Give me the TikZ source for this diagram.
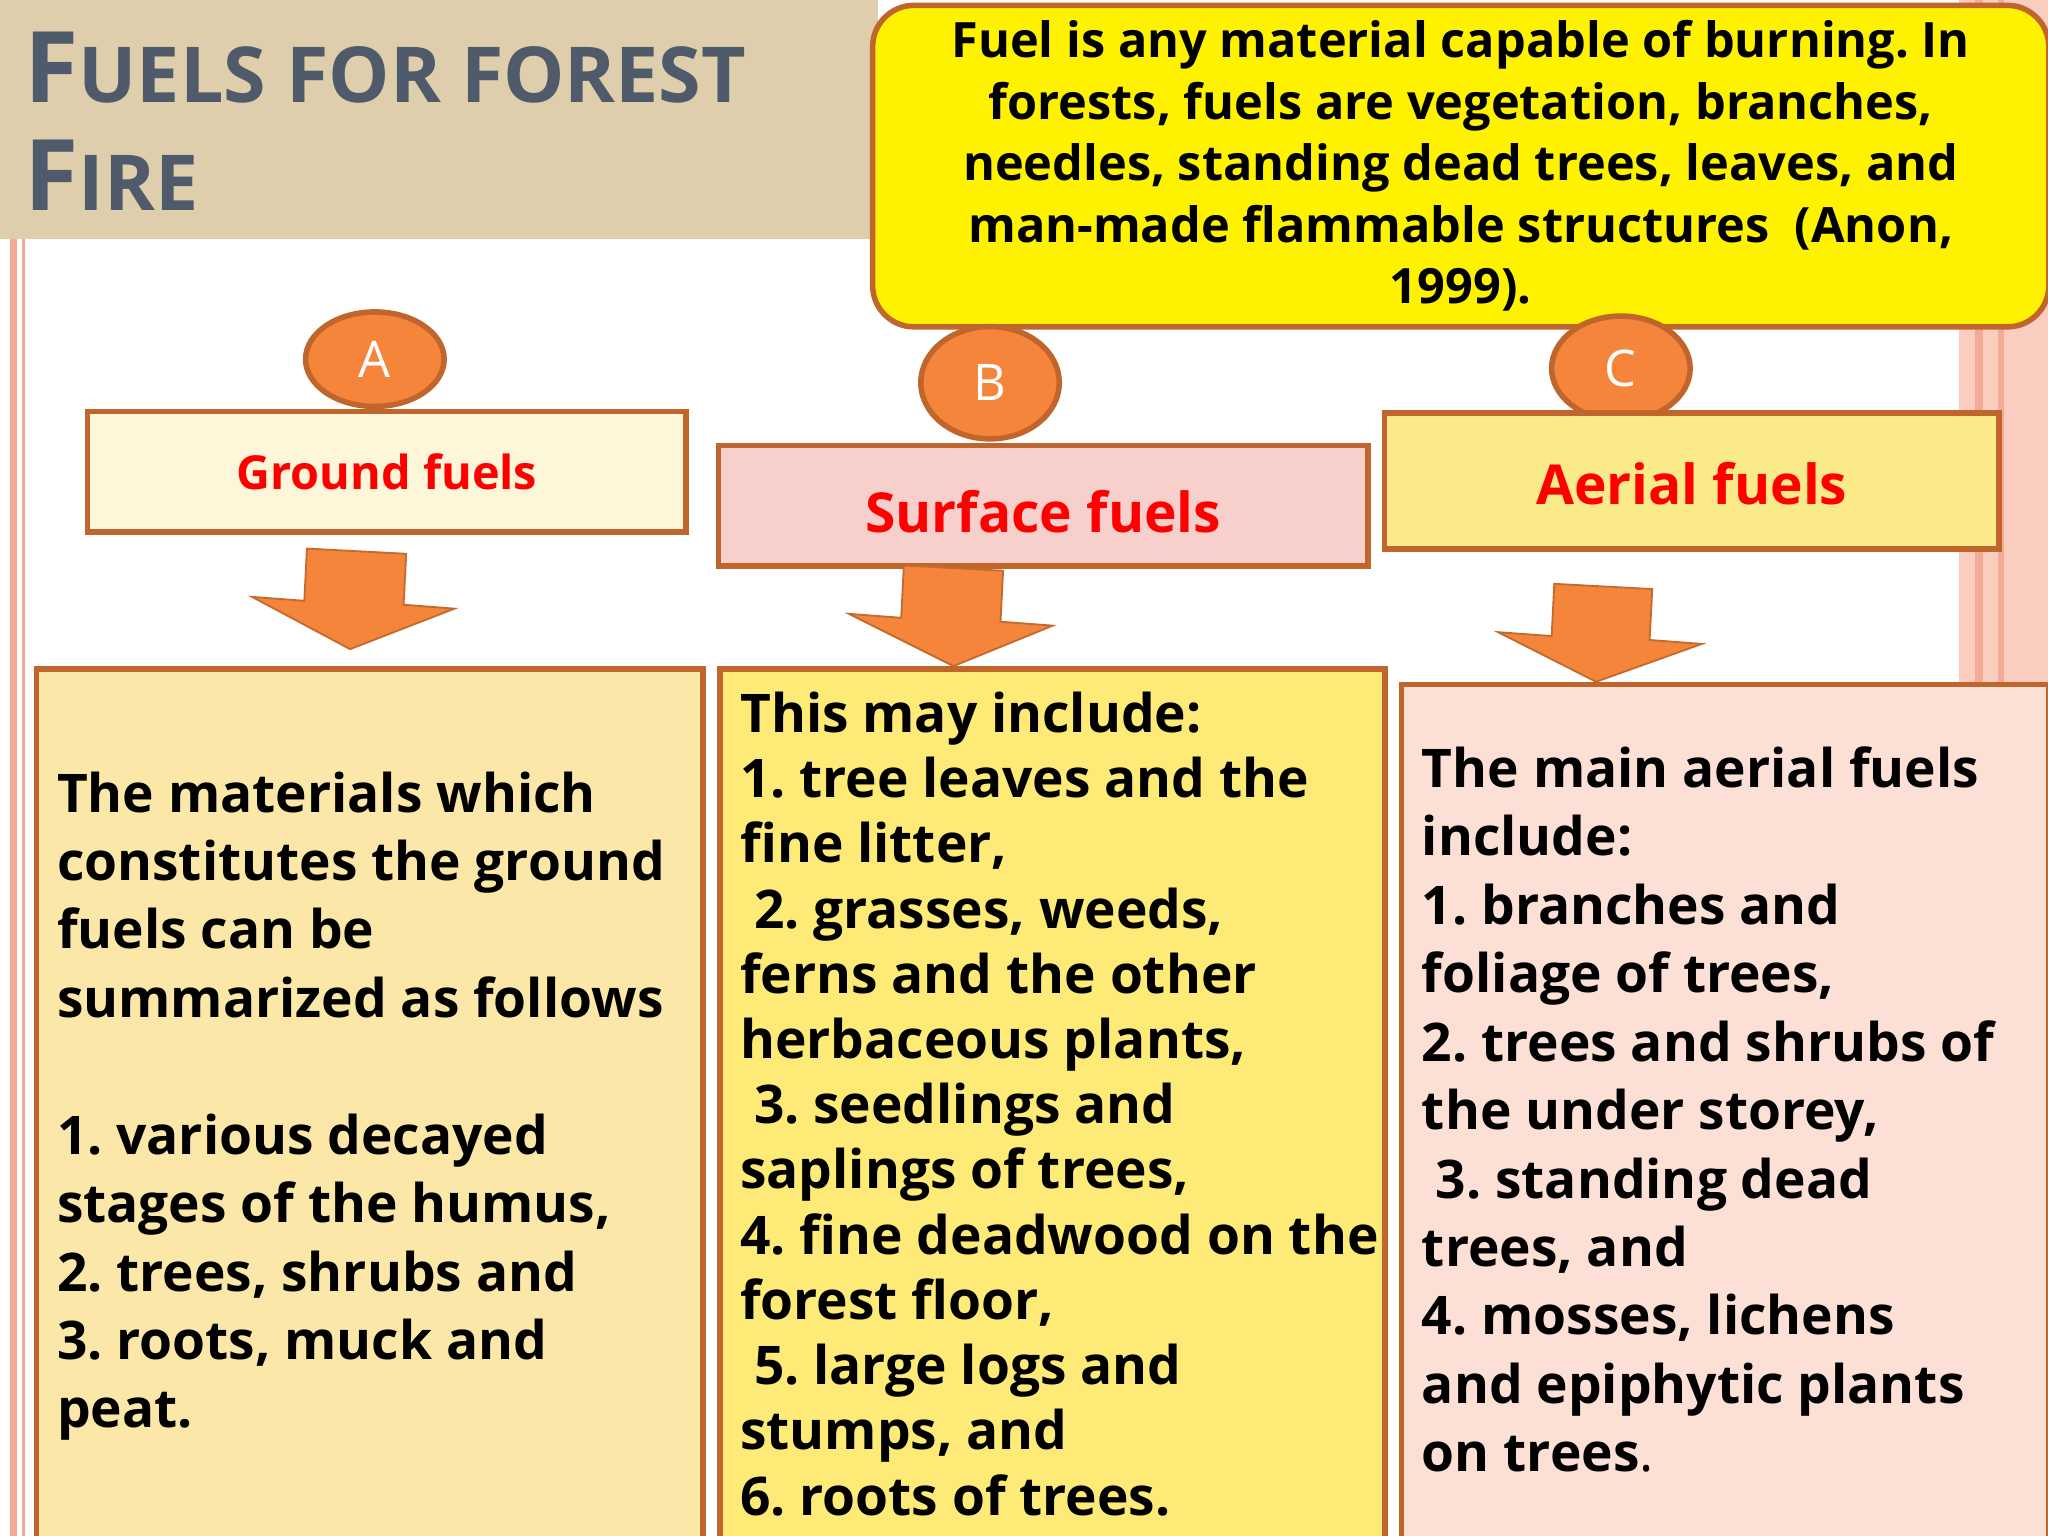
\documentclass[tikz,border=0pt]{standalone}
\usepackage{fontspec}
\setmainfont{Open Sans}
\usetikzlibrary{shapes.geometric}
\definecolor{bord}{HTML}{C0652C}
\definecolor{org}{HTML}{F4853A}
\definecolor{ttl}{HTML}{4F5A6B}
\definecolor{tan}{RGB}{222,206,172}
\definecolor{pinkbg}{RGB}{250,205,190}
\definecolor{pinkln}{RGB}{245,170,150}
\definecolor{fg}{RGB}{254,246,216}
\definecolor{fs}{RGB}{247,207,203}
\definecolor{fa}{RGB}{251,234,138}
\definecolor{fb1}{RGB}{251,232,168}
\definecolor{fb2}{RGB}{254,235,119}
\definecolor{fb3}{RGB}{253,224,213}
\tikzset{
 hbox/.style={draw=bord,line width=1.2pt,anchor=north west,inner sep=0pt},
 oval/.style={ellipse,draw=bord,line width=1.2pt,fill=org,text=white,font=\fontsize{11}{13}\selectfont},
 body/.style={anchor=north west,align=left,font=\bfseries\fontsize{11.6}{14.9}\selectfont,inner sep=0pt},
 harrow/.style={fill=org,draw=org!80!black,line width=0.4pt},
}
\begin{document}
\frenchspacing
\begin{tikzpicture}[x=0.01cm,y=-0.01cm]
\useasboundingbox (0,0) rectangle (1568,1176);
\fill[white] (0,0) rectangle (1568,1176);
% background decorations
\fill[tan] (0,0) rectangle (672,183);
\fill[pinkbg] (1500,0) rectangle (1568,1176);
\fill[pinkln] (1512,0) rectangle (1518,1176);
\fill[pinkln] (1530,0) rectangle (1534,1176);
\draw[pinkln,line width=1.5pt] (10,183) -- (10,1176);
\draw[pinkln,line width=0.8pt] (18,183) -- (18,1176);
% title
\node[anchor=north west,align=left,text=ttl,font=\bfseries\fontsize{21.5}{23.5}\selectfont,inner sep=0pt] (title) at (18,24)
 {F{\fontsize{16.8}{18}\selectfont UELS FOR FOREST}\\F{\fontsize{16.8}{18}\selectfont IRE}};
% callout
\node[draw=bord,line width=1.2pt,fill=yellow,rounded corners=9pt,minimum width=9cm,anchor=north west,
  align=center,font=\bfseries\fontsize{10.6}{13.4}\selectfont,inner sep=0pt,
  minimum height=2.46cm] (def) at (666,2)
 {Fuel is any material capable of burning. In\\forests, fuels are vegetation, branches,\\needles, standing dead trees, leaves, and\\man-made flammable structures\ \ (Anon,\\1999).};
% ovals
\node[oval,minimum width=1.06cm,minimum height=0.48cm] (A) at (287,275) {A};
\node[oval,minimum width=1.06cm,minimum height=0.86cm] (B) at (758,293) {B};
\node[oval,minimum width=1.06cm,minimum height=0.8cm] (C) at (1241,282) {C};
% header boxes
\node[hbox,fill=fg,minimum width=4.58cm,minimum height=0.92cm] (g) at (65,313) {};
\node[text=red,font=\bfseries\fontsize{10.2}{12}\selectfont] (gt) at (g.center) {Ground fuels};
\node[hbox,fill=fs,minimum width=4.97cm,minimum height=0.92cm] (s) at (548,339) {};
\node[text=red,font=\bfseries\fontsize{12}{14}\selectfont] (st) at ([yshift=-0.05cm]s.center) {Surface fuels};
\node[hbox,fill=fa,minimum width=4.7cm,minimum height=1.04cm] (a) at (1058,314) {};
\node[text=red,font=\bfseries\fontsize{12}{14}\selectfont] (at) at ([yshift=-0.02cm]a.center) {Aerial fuels};
% block arrows
\draw[harrow] (235,420) -- (311,424) -- (309,463) -- (348,466) -- (268,497) -- (193,457) -- (233,460) -- cycle;
\draw[harrow] (692,433) -- (768,437) -- (766,476) -- (806,479) -- (730,510) -- (650,470) -- (690,473) -- cycle;
\draw[harrow] (1190,447) -- (1265,451) -- (1263,490) -- (1303,493) -- (1222,522) -- (1147,484) -- (1188,487) -- cycle;
% bottom boxes
\node[hbox,fill=fb1,minimum width=5.1cm,minimum height=6.7cm] (b1) at (26,510) {};
\node[hbox,fill=fb2,minimum width=5.09cm,minimum height=6.7cm] (b2) at (549,510) {};
\node[hbox,fill=fb3,minimum width=4.95cm,minimum height=6.6cm] (b3) at (1071,522) {};
\node[body] (t1) at (43,590) {The materials which\\constitutes the ground\\fuels can be\\summarized as follows\\[14.9pt]1. various decayed\\stages of the humus,\\2. trees, shrubs and\\3. roots, muck and\\peat.};
\node[body,font=\bfseries\fontsize{11.6}{14.2}\selectfont] (t2) at (566,529) {This may include:\\1. tree leaves and the\\fine litter,\\\ 2. grasses, weeds,\\ferns and the other\\herbaceous plants,\\\ 3. seedlings and\\saplings of trees,\\4. fine deadwood on the\\forest floor,\\\ 5. large logs and\\stumps, and\\6. roots of trees.};
\node[body] (t3) at (1088,571) {The main aerial fuels\\include:\\1. branches and\\foliage of trees,\\2. trees and shrubs of\\the under storey,\\\ 3. standing dead\\trees, and\\4. mosses, lichens\\and epiphytic plants\\on trees{\mdseries .}};
\end{tikzpicture}
\end{document}
